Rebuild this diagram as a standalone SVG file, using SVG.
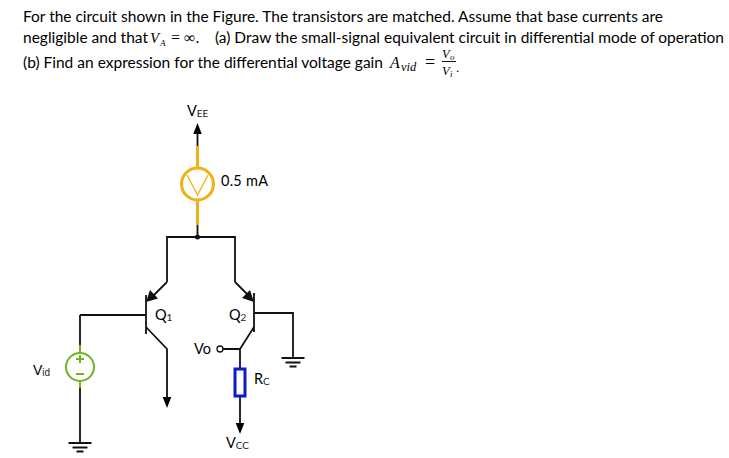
<svg xmlns="http://www.w3.org/2000/svg" width="729" height="458" viewBox="0 0 729 458">
<defs>
<path id="arrow" d="M-4.300 -11H4.300L0 0Z" fill="#000"/>
<g id="gnd"><path d="M-11.500 0H11.500M-7.500 4.500H7.500M-3.500 8.500H3.500" fill="none" stroke="#111" stroke-width="1.800"/></g>
</defs>
<style>
text{font-family:Lato,"Open Sans","Liberation Sans",sans-serif;fill:#000}
.p{font-size:14.500px}
.m{font-family:"Liberation Serif",serif;font-style:italic}
.l{font-size:14.500px}
.s{font-size:10px;fill:#222}
.w{fill:none;stroke:#111;stroke-width:1.800}
.o{fill:none;stroke:#EFB114;stroke-width:3}
.g{fill:none;stroke:#6DB51E;stroke-width:2}
.b{fill:none;stroke:#0C1BC4;stroke-width:3}
</style>
<g id="question">
<text class="p" x="23" y="22" textLength="640" lengthAdjust="spacingAndGlyphs">For the circuit shown in the Figure. The transistors are matched. Assume that base currents are</text>
<text class="p" x="23" y="43" textLength="125" lengthAdjust="spacingAndGlyphs">negligible and that</text>
<text class="m" x="150" y="43" font-size="15">V</text><text class="m" x="160" y="46" font-size="9">A</text>
<text x="171" y="43" font-size="16" font-family="Liberation Serif" style="font-family:'Liberation Serif',serif">= ∞.</text>
<text class="p" x="215" y="43" textLength="509" lengthAdjust="spacingAndGlyphs">(a) Draw the small-signal equivalent circuit in differential mode of operation</text>
<text class="p" x="23" y="68" textLength="360" lengthAdjust="spacingAndGlyphs">(b) Find an expression for the differential voltage gain</text>
<text class="m" x="390" y="68" font-size="16">A</text><text class="m" x="401" y="71" font-size="12.500">vid</text>
<text x="425" y="68" font-size="18" style="font-family:'Liberation Serif',serif">=</text>
<text class="m" x="442" y="58" font-size="12.500">V</text><text class="m" x="450" y="60" font-size="9">o</text>
<path d="M442 61.500H456" stroke="#111" stroke-width="1"/>
<text class="m" x="442" y="75" font-size="12.500">V</text><text class="m" x="450" y="77" font-size="9">i</text>
<text x="456" y="72" font-size="13" style="font-family:'Liberation Serif',serif">.</text>
</g>
<g id="connectors">
<path class="w" d="M197.500 133V146M197.500 225V237M167 282V237H235V282"/>
<circle cx="197.500" cy="237" r="2.500" fill="#111"/>
<path class="w" d="M167 282L149 300"/>
<path class="w" d="M146 295V334M80 315H146M146 327L167 349V398"/>
<path class="w" d="M235 282L252 299"/>
<path class="w" d="M254 293V332M254 313H293V358M254 327L240 349V368M223 349H240M240 397V424"/>
<path class="w" d="M80 315V345M80 388V443"/>
<use href="#arrow" transform="translate(197.500 123) rotate(180)"/>
<use href="#arrow" transform="translate(167 408)"/>
<use href="#arrow" transform="translate(240 434)"/>
<path d="M146 302L150 290L158 298.500Z" fill="#111"/>
<path d="M254 302L242 298L250 290Z" fill="#111"/>
</g>
<g id="vee"><text class="l" x="187" y="116">V<tspan class="s" dy="1">EE</tspan></text></g>
<g id="source">
<path class="o" d="M197.500 146V168M197.500 200V225"/>
<circle class="o" cx="197.500" cy="184" r="16"/>
<path d="M187 175L197.500 195L208 175" fill="none" stroke="#EFB114" stroke-width="1.300"/>
<text class="l" x="221" y="186" textLength="47">0.5 mA</text>
</g>
<g id="q1"><text class="l" x="155" y="320">Q<tspan class="s" dy="1">1</tspan></text></g>
<g id="q2"><text class="l" x="229" y="320">Q<tspan class="s" dy="1">2</tspan></text></g>
<g id="vo"><text class="l" x="194" y="354">Vo</text><circle cx="220" cy="349" r="3" fill="#fff" stroke="#111" stroke-width="1.300"/></g>
<g id="rc">
<path class="b" d="M240 361V368M240 397V400" style="stroke-width:2"/>
<rect class="b" x="235" y="369" width="10" height="27"/>
<text class="l" x="254" y="384">R<tspan class="s" dy="1">C</tspan></text>
</g>
<g id="vcc"><text class="l" x="226" y="448">V<tspan class="s" dy="1">CC</tspan></text></g>
<g id="vid">
<path class="g" d="M80 345V353M80 381V388"/>
<circle class="g" cx="80" cy="367" r="14"/>
<path d="M76 359H84M80 355V363M76 374H84" fill="none" stroke="#6DB51E" stroke-width="2"/>
<text x="33" y="375" font-size="14" style="font-family:'Liberation Sans',sans-serif">V<tspan class="s" dy="1" style="font-family:'Liberation Sans',sans-serif">id</tspan></text>
</g>
<g id="grounds">
<use href="#gnd" transform="translate(80 443)"/>
<use href="#gnd" transform="translate(293 358)"/>
</g>
</svg>
